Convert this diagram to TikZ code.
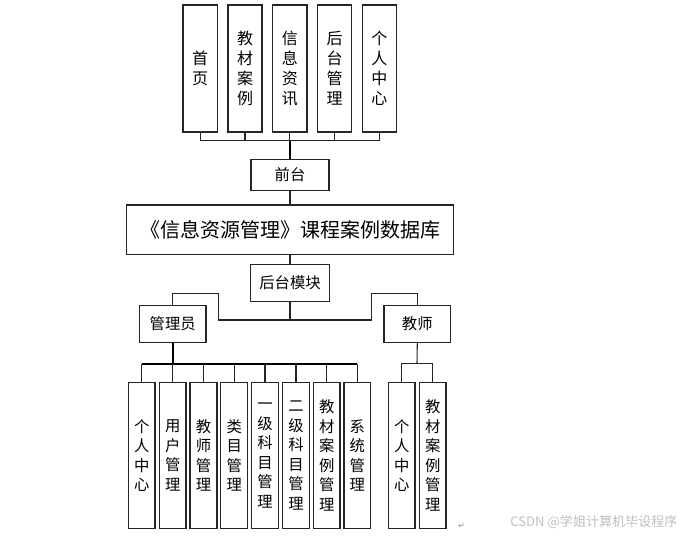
\documentclass[tikz,border=0pt]{standalone}
\usepackage{fontspec}
\setmainfont{Noto Sans CJK SC}
\newfontfamily\symfont{DejaVu Sans}
\begin{document}
\begin{tikzpicture}[x=0.75pt,y=-0.75pt,
  box/.style={draw=black!85,line width=1pt,inner sep=0pt,align=center},
  tall/.style={box,minimum width=25.5bp,minimum height=94.8bp,font=\fontsize{12}{15}\selectfont},
  leaf/.style={box,minimum width=20bp,minimum height=109.2bp,font=\fontsize{11.5}{14.6}\selectfont},
  mid/.style={box,font=\fontsize{11.5}{14}\selectfont},
  con/.style={draw=black!85,line width=0.8pt},
  thk/.style={draw=black,line width=1.5pt}]
\useasboundingbox (0,0) rectangle (682,536);
% top row
\node[tall] (t1) at (200.2,68.5) {首\\页};
\node[tall] (t2) at (245,68.5) {教\\材\\案\\例};
\node[tall] (t3) at (289.8,68.5) {信\\息\\资\\讯};
\node[tall] (t4) at (334.6,68.5) {后\\台\\管\\理};
\node[tall] (t5) at (379.4,68.5) {个\\人\\中\\心};
\node[mid,minimum width=58.5bp,minimum height=23.2bp] (qt) at (290,174.8) {前台};
\node[box,minimum width=244bp,minimum height=37bp,font=\fontsize{15}{18}\selectfont] (db) at (290,229.7) {《信息资源管理》课程案例数据库};
\node[mid,minimum width=59bp,minimum height=28bp] (hm) at (290,283) {后台模块};
\node[mid,minimum width=50bp,minimum height=27.5bp] (gly) at (172.7,324) {管理员};
\node[mid,minimum width=50bp,minimum height=27.5bp] (js) at (417.3,324) {教师};
% admin leaves
\node[leaf] (c1) at (141.7,455.5) {个\\人\\中\\心};
\node[leaf] (c2) at (172.7,455.5) {用\\户\\管\\理};
\node[leaf] (c3) at (203.5,455.5) {教\\师\\管\\理};
\node[leaf] (c4) at (234.2,455.5) {类\\目\\管\\理};
\node[leaf] (c5) at (265,455.5) {一\\级\\科\\目\\管\\理};
\node[leaf] (c6) at (296,455.5) {二\\级\\科\\目\\管\\理};
\node[leaf] (c7) at (326.7,455.5) {教\\材\\案\\例\\管\\理};
\node[leaf] (c8) at (357.4,455.5) {系\\统\\管\\理};
% teacher leaves
\node[leaf] (d1) at (401.7,455.5) {个\\人\\中\\心};
\node[leaf] (d2) at (432.7,455.5) {教\\材\\案\\例\\管\\理};
% connectors: top
\coordinate (tb) at (290,140.7);
\foreach \i in {1,...,5} {\draw[con] (t\i.south) |- (tb);}
\draw[thk] (tb) -- (qt.north);
\draw[con] (qt.south) -- (db.north);
\draw[con] (db.south) -- (hm.north);
% backend split
\coordinate (hj) at (290,320);
\coordinate (hl) at (218.3,293.7);
\coordinate (hr) at (371.7,293.7);
\draw[con] (hm.south) -- (hj) -| (hl) -| (gly.north);
\draw[con] (hj) -| (hr) -| (js.north);
% admin bus
\coordinate (ab) at (172.7,364.3);
\draw[thk] (gly.south) -- (ab);
\draw[thk] (c1.north |- ab) -- (c8.north |- ab);
\foreach \i in {1,...,8} {\draw[con] (c\i.north) -- (c\i.north |- ab);}
% teacher bus
\coordinate (tbb) at (417,363.3);
\draw[con] (js.south) -- (tbb);
\draw[con] (d1.north |- tbb) -- (d2.north |- tbb);
\foreach \i in {1,2} {\draw[con] (d\i.north) -- (d\i.north |- tbb);}
% marks
\node[text=black!45,font=\symfont\fontsize{6}{6}\selectfont,inner sep=0pt] (rm) at (461.5,526) {↵};
\node[text=black!25,font=\fontsize{9.8}{10}\selectfont,inner sep=0pt] (wm) at (594,521.7) {CSDN @学姐计算机毕设程序};
\end{tikzpicture}
\end{document}
